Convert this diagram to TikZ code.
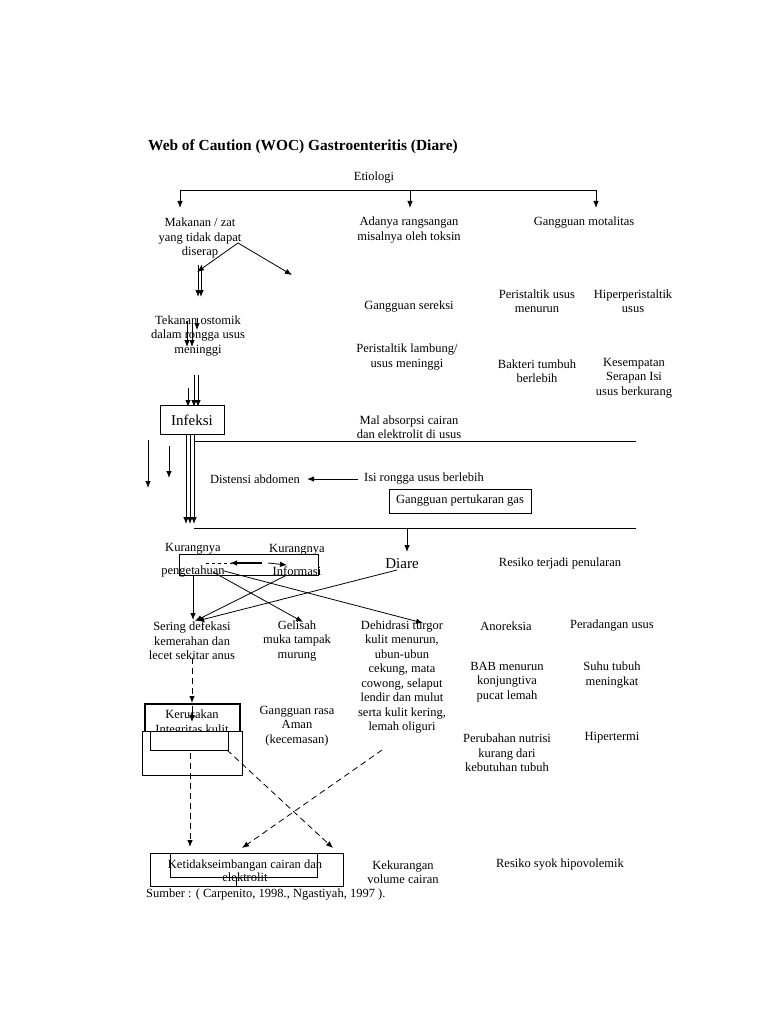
\documentclass[tikz,border=0pt]{standalone}
\usepackage{fontspec}
\setmainfont{Liberation Serif}
\usetikzlibrary{positioning,arrows.meta}
\tikzset{
  txt/.style={align=center, inner sep=0pt, font=\fontsize{12.5}{14.5}\selectfont},
  besar/.style={inner sep=0pt, font=\fontsize{15}{17}\selectfont},
  kotak/.style={draw, line width=0.8pt},
  arr/.style={-{Latex[length=7pt,width=5.5pt]}, line width=0.8pt},
  darr/.style={-{Latex[length=7pt,width=5.5pt]}, line width=0.8pt, dash pattern=on 6pt off 4pt},
}

\begin{document}
\begin{tikzpicture}[x=1pt,y=-1pt]
			%%%%% START %%%%%
			\useasboundingbox[fill=white] (0,0) rectangle (768,1024);
			
			\node[anchor=west, inner sep=0pt, font=\fontsize{15.4}{17}\selectfont\bfseries] (judul) at (148,147) {Web of Caution (WOC) Gastroenteritis (Diare)};
			
			\node[txt] (etio) at (374,178) {Etiologi};
			\coordinate (bL) at (180,190);
			\coordinate (bM) at (410,190);
			\coordinate (bR) at (596,190);
			\draw[line width=0.8pt] (bL) -- (bR);
			\draw[arr] (bL) -- ++(0,18);
			\draw[arr] (bM) -- ++(0,18);
			\draw[arr] (bR) -- ++(0,18);
			
			\node[txt] (makanan) at (200,238) {Makanan / zat\\yang tidak dapat\\diserap};
			\node[txt] (rangsang) at (409,230) {Adanya rangsangan\\misalnya oleh toksin};
			\node[txt] (motalitas) at (584,223) {Gangguan motalitas};
			
			\node[txt] (sereksi) at (409,307) {Gangguan sereksi};
			\node[txt] (pmenurun) at (537,301) {Peristaltik usus\\menurun};
			\node[txt] (hiper) at (633,301) {Hiperperistaltik\\usus};
			\node[txt] (tekanan) at (198,336) {Tekanan ostomik\\dalam rongga usus\\meninggi};
			\node[txt] (plambung) at (407,357) {Peristaltik lambung/\\usus meninggi};
			\node[txt] (bakteri) at (537,371) {Bakteri tumbuh\\berlebih};
			\node[txt] (serapan) at (634,378) {Kesempatan\\Serapan Isi\\usus berkurang};
			\node[txt] (malabs) at (409,427) {Mal absorpsi cairan\\dan elektrolit di usus};
			
			% panah dari makanan
			\coordinate (m0) at (238,243);
			\draw[arr] (m0) -- (197,272);
			\draw[arr] (m0) -- (292,275);
			\draw[arr] (198,265) -- (198,297);
			\draw[arr] (201,265) -- (201,297);
			
			\draw[arr] (187,321) -- (187,347);
			\draw[arr] (192,321) -- (192,347);
			\draw[arr] (197,318) -- (197,330);
			
			\draw[arr] (194,375) -- (194,407);
			\draw[arr] (198,375) -- (198,407);
			\draw[arr] (188,388) -- (188,407);
			
			\node[kotak, besar, fill=white, minimum width=64pt, minimum height=29pt] (infeksi) at (192,420) {Infeksi};
			
			% garis ke bawah
			\draw[arr] (186,435) -- (186,524);
			\draw[arr] (190,435) -- (190,524);
			\draw[arr] (194,435) -- (194,524);
			\draw[line width=0.8pt] (194,441) -- (636,441);
			\draw[line width=0.8pt] (194,528) -- (636,528);
			\draw[arr] (148,440) -- (148,488);
			\draw[arr] (169,446) -- (169,478);
			
			\node[txt] (distensi) at (255,479) {Distensi abdomen};
			\node[txt] (isi) at (424,479) {Isi rongga usus berlebih};
			\draw[arr, shorten <=6pt, shorten >=7pt] (isi.west) -- (distensi.east);
			\node[kotak, txt, minimum width=142pt, minimum height=24pt] (gas) at (460,501) {Gangguan pertukaran gas};
			
			\draw[arr] (407,529) -- (407,552);
			\node[besar] (diare) at (402,564) {Diare};
			\node[txt] (penularan) at (560,563) {Resiko terjadi penularan};
			
			\node[txt] (kpeng) at (193,560) {Kurangnya\\[8.5pt]pengetahuan};
			\node[txt] (kinfo) at (297,560) {Kurangnya\\[8.5pt]Informasi};
			\draw[line width=0.8pt] (179,554) rectangle (318,575);
			\draw[line width=0.8pt, dashed] (206,563) -- (232,563);
			\draw[arr, line width=1.2pt] (262,563) -- (230,563);
			\draw[arr] (268,563) -- (287,565);
			
			\node[txt] (sering) at (192,641) {Sering defekasi\\kemerahan dan\\lecet sekitar anus};
			\node[txt] (gelisah) at (297,641) {Gelisah\\muka tampak\\murung};
			\node[txt] (dehidrasi) at (402,677) {Dehidrasi turgor\\kulit menurun,\\ubun-ubun\\cekung, mata\\cowong, selaput\\lendir dan mulut\\serta kulit kering,\\lemah oliguri};
			\node[txt] (anoreksia) at (506,626) {Anoreksia};
			\node[txt] (radang) at (612,626) {Peradangan usus};
			\node[txt] (bab) at (507,682) {BAB menurun\\konjungtiva\\pucat lemah};
			\node[txt] (suhu) at (612,675) {Suhu tubuh\\meningkat};
			
			\draw[arr] (193,575) -- (193,620);
			\draw[arr] (287,575) -- (195,621);
			\draw[arr] (397,570) -- (197,621);
			\draw[arr] (213,572) -- (303,622);
			\draw[arr] (224,571) -- (423,623);
			
			% kerusakan integritas kulit
			\draw[line width=1.1pt] (145,731) -- (145,704) -- (240,704) -- (240,731);
			\draw[line width=0.8pt] (142,731) rectangle (242,775);
			\node[txt] (kerusakan) at (192,723) {Kerusakan\\Integritas kulit};
			\draw[line width=0.8pt, fill=white] (150,731) rectangle (228,750);
			\draw[darr] (192,658) -- (192,703);
			\draw[arr] (192,706) -- (192,722);
			
			\node[txt] (rasaaman) at (297,726) {Gangguan rasa\\Aman\\(kecemasan)};
			\node[txt] (nutrisi) at (507,753) {Perubahan nutrisi\\kurang dari\\kebutuhan tubuh};
			\node[txt] (hipertermi) at (612,738) {Hipertermi};
			
			\draw[darr] (190,753) -- (190,847);
			\draw[darr] (227,750) -- (333,848);
			\draw[darr] (382,750) -- (242,848);
			
			% bawah
			\draw[line width=0.8pt] (150,853) rectangle (343,886);
			\draw[line width=0.8pt] (170,853) rectangle (317,877);
			\draw[line width=0.8pt] (236,877) -- (236,886);
			\node[txt, font=\fontsize{12.5}{13}\selectfont] (ketidak) at (245,871) {Ketidakseimbangan cairan dan\\elektrolit};
			\node[txt] (kekurangan) at (403,872) {Kekurangan\\volume cairan};
			\node[txt] (syok) at (560,865) {Resiko syok hipovolemik};
			\node[txt, anchor=west] (sumber) at (146,895) {Sumber : ( Carpenito, 1998., Ngastiyah, 1997 ).};
			
			%%%%% END %%%%%
\end{tikzpicture}
\end{document}
